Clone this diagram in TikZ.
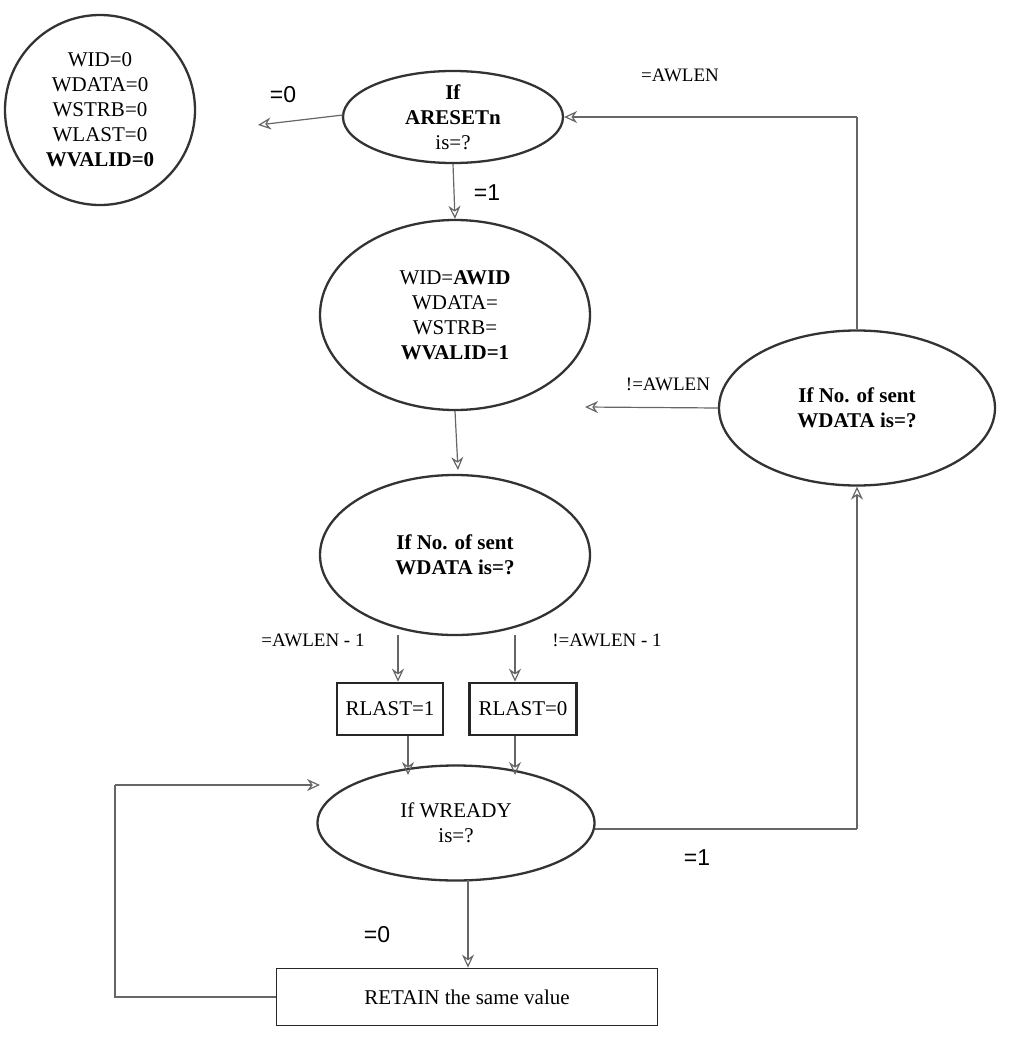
\documentclass[tikz,border=0pt]{standalone}
\usepackage{fontspec}
\setmainfont{Liberation Serif}
\newfontfamily\lsans{Liberation Sans}
\usetikzlibrary{shapes.geometric,arrows.meta}
\begin{document}
\begin{tikzpicture}[x=1pt,y=-1pt,
  every node/.style={font=\fontsize{21}{25}\selectfont},
  el/.style={draw=black!80,line width=2.3pt,ellipse,align=center,inner sep=0pt},
  bx/.style={draw=black!85,rectangle,align=center},
  ar/.style={-{Stealth[length=13pt,width=12pt,open]},draw=black!60,line width=1.2pt},
  lnk/.style={draw=black!60,line width=1.2pt},
  lbl/.style={font=\lsans\fontsize{23}{27}\selectfont},
  lbs/.style={font=\fontsize{19}{22}\selectfont}]
\useasboundingbox (0,0) rectangle (1022,1049);
\node[el,minimum width=190,minimum height=190] (c0) at (100,110)
  {WID=0\\WDATA=0\\WSTRB=0\\WLAST=0\\\textbf{WVALID=0}};
\node[el,minimum width=220,minimum height=86] (rst) at (453,117)
  {\textbf{If}\\\textbf{ARESETn}\\is=?};
\node[el,minimum width=270,minimum height=190] (e2) at (455,315)
  {WID=\textbf{AWID}\\WDATA=\\WSTRB=\\\textbf{WVALID=1}};
\node[el,minimum width=276,minimum height=155] (er) at (857,408)
  {\textbf{If No. of sent}\\\textbf{WDATA is=?}};
\node[el,minimum width=270,minimum height=160] (e3) at (455,555)
  {\textbf{If No. of sent}\\\textbf{WDATA is=?}};
\node[bx,line width=2.6pt,minimum width=106,minimum height=52] (r1) at (390,709) {RLAST=1};
\node[bx,line width=2.6pt,minimum width=107,minimum height=52] (r0) at (523,709) {RLAST=0};
\node[el,minimum width=277,minimum height=115] (e4) at (456,823) {If WREADY\\is=?};
\node[bx,line width=1.8pt,minimum width=381,minimum height=57] (ret) at (467,997) {RETAIN the same value};

\draw[ar] (343,115) -- (258,125);
\node[lbl] at (283,95) {=0};
\draw[ar] (rst.south) -- (e2.north);
\node[lbl] at (487,193) {=1};
\draw[ar] (er.west) -- (585,407);
\node[lbs] at (668,384) {!=AWLEN};
\draw[lnk] (er.north) -- (857,117);
\draw[ar] (857,117) -- (rst.east);
\node[lbs] at (680,75) {=AWLEN};
\draw[ar] (e2.south) -- (458,470);
\draw[ar] (398,635) -- (r1.north -| 398,0);
\draw[ar] (515,635) -- (r0.north -| 515,0);
\node[lbs] at (313,640) {=AWLEN - 1};
\node[lbs] at (607,640) {!=AWLEN - 1};
\draw[ar] (r1.south -| 408,0) -- (408,775);
\draw[ar] (r0.south -| 515,0) -- (515,775);
\draw[lnk] (595,829) -- (857,829);
\draw[ar] (857,829) -- (er.south);
\node[lbl] at (697,858) {=1};
\draw[ar] (468,880) -- (ret.north -| 468,0);
\node[lbl] at (377,935) {=0};
\draw[lnk] (ret.west) -- (115,997) -- (115,785);
\draw[ar] (115,785) -- (320,785);
\end{tikzpicture}
\end{document}
